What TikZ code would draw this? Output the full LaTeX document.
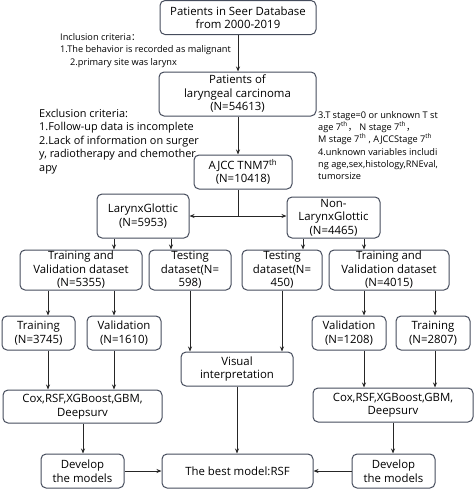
\documentclass[tikz,border=0pt]{standalone}
\usepackage{fontspec}
\setmainfont{Open Sans}
\newfontfamily\cjk{Noto Sans CJK SC}
\usetikzlibrary{arrows.meta}
\definecolor{boxline}{HTML}{454C5C}
\definecolor{arrowline}{HTML}{262626}

\begin{document}
\begin{tikzpicture}
  [x=1pt,y=-1pt,>={Stealth[length=5pt,width=4pt]},
   box/.style 2 args={rectangle,rounded corners=5pt,draw=boxline,line width=1pt,
     minimum width=#1pt,minimum height=#2pt,align=center,inner sep=0pt,
     font=\fontsize{11.4}{13.5}\selectfont},
   note/.style={align=left,inner sep=0pt,anchor=north west,
     font=\fontsize{9.2}{12.5}\selectfont},
   link/.style={->,draw=arrowline,line width=0.8pt}]
  \useasboundingbox (0,0) rectangle (474,490);

  \node[box={156}{34}] (n1) at (238,17.5) {Patients in Seer Database\\from 2000-2019};
  \node[box={157}{44}] (n2) at (237.5,94) {Patients of\\laryngeal carcinoma\\(N=54613)};
  \node[box={98}{34}] (n3) at (243,172) {AJCC TNM7\textsuperscript{th}\\(N=10418)};
  \node[box={92}{44}] (n4) at (143,216) {LarynxGlottic\\(N=5953)};
  \node[box={93}{41}] (n5) at (333.5,217.5) {Non-\\LarynxGlottic\\(N=4465)};

  \node[box={122}{40}] (n6) at (81,270) {Training and\\Validation dataset\\(N=5355)};
  \node[box={82}{40}] (n7) at (190,270) {Testing\\dataset(N=\\598)};
  \node[box={80}{40}] (n8) at (282,270) {Testing\\dataset(N=\\450)};
  \node[box={120}{40}] (n9) at (389,270) {Training and\\Validation dataset\\(N=4015)};

  \node[box={73}{34}] (n10) at (38.5,333) {Training\\(N=3745)};
  \node[box={74}{34}] (n11) at (124,333) {Validation\\(N=1610)};
  \node[box={74}{34}] (n12) at (349,333) {Validation\\(N=1208)};
  \node[box={74}{34}] (n13) at (433,333) {Training\\(N=2807)};

  \node[box={112}{34}] (n14) at (237,369) {Visual\\interpretation};
  \node[box={159}{33}] (n15) at (82.5,406.5) {Cox,RSF,XGBoost,GBM,\\Deepsurv};
  \node[box={160}{34}] (n16) at (393,405) {Cox,RSF,XGBoost,GBM,\\Deepsurv};

  \node[box={83}{34}] (n17) at (82.5,471) {Develop\\the models};
  \node[box={151}{34}] (n18) at (237.5,471) {The best model:RSF};
  \node[box={83}{34}] (n19) at (393.5,471) {Develop\\the models};

  \node[note] (inc) at (60,33) {Inclusion criteria{\cjk ：}\\1.The behavior is recorded as malignant\\\hspace{10pt}2.primary site was larynx};
  \node[note,font=\fontsize{10.9}{13.5}\selectfont] (exc) at (39,109) {Exclusion criteria:\\1.Follow-up data is incomplete\\2.Lack of information on surger\\y, radiotherapy and chemother\\apy};
  \node[note,font=\fontsize{9.2}{12.3}\selectfont] (rest) at (318,111) {3.T stage=0 or unknown T st\\age 7\textsuperscript{th}{\cjk ，} N stage 7\textsuperscript{th}{\cjk ，}\\M stage 7\textsuperscript{th} , AJCCStage 7\textsuperscript{th}\\4.unknown variables includi\\ng age,sex,histology,RNEval,\\tumorsize};

  \foreach \from/\to/\x in {n1/n2/238, n2/n3/238, n4/n6/114, n4/n7/171, n5/n8/303, n5/n9/364,
      n6/n10/48, n6/n11/114, n9/n12/364, n9/n13/435, n7/n14/190, n8/n14/282,
      n10/n15/48, n11/n15/114, n12/n16/364, n13/n16/435, n15/n17/83, n16/n19/393, n14/n18/237}
    \draw[link] (\from.south -| \x,0) -- (\to.north -| \x,0);

  \coordinate (j) at (238,216);
  \draw[arrowline,line width=0.8pt] (n3.south -| j) -- (j);
  \draw[link] (j) -- (n4.east |- j);
  \draw[link] (j) -- (n5.west |- j);

  \draw[link] (n17.east) -- (n18.west);
  \draw[link] (n19.west) -- (n18.east);
\end{tikzpicture}
\end{document}
